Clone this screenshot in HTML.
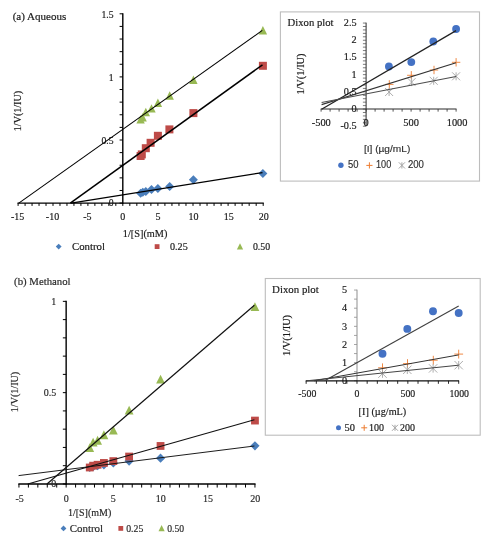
<!DOCTYPE html>
<html><head><meta charset="utf-8"><title>Lineweaver-Burk and Dixon plots</title>
<style>
html,body{margin:0;padding:0;background:#fff;}
svg{display:block;font-family:"Liberation Serif", "DejaVu Serif", serif;}
</style></head>
<body>
<svg width="496" height="550" viewBox="0 0 496 550">
<rect width="496" height="550" fill="#fff"/>
<g id="panel-a">
<text x="12.7" y="20.2" font-size="10" text-anchor="start" fill="#1a1a1a" textLength="53.6" lengthAdjust="spacingAndGlyphs" stroke="#1a1a1a" stroke-width="0.17">(a) Aqueous</text>
<line x1="122.80" y1="13.20" x2="122.80" y2="203.80" stroke="#000" stroke-width="1.4"/>
<line x1="17.50" y1="203.10" x2="263.80" y2="203.10" stroke="#000" stroke-width="1.4"/>
<line x1="119.60" y1="203.10" x2="122.80" y2="203.10" stroke="#000" stroke-width="1"/>
<line x1="119.60" y1="190.48" x2="122.80" y2="190.48" stroke="#000" stroke-width="1"/>
<line x1="119.60" y1="177.86" x2="122.80" y2="177.86" stroke="#000" stroke-width="1"/>
<line x1="119.60" y1="165.24" x2="122.80" y2="165.24" stroke="#000" stroke-width="1"/>
<line x1="119.60" y1="152.62" x2="122.80" y2="152.62" stroke="#000" stroke-width="1"/>
<line x1="119.60" y1="140.00" x2="122.80" y2="140.00" stroke="#000" stroke-width="1"/>
<line x1="119.60" y1="127.38" x2="122.80" y2="127.38" stroke="#000" stroke-width="1"/>
<line x1="119.60" y1="114.76" x2="122.80" y2="114.76" stroke="#000" stroke-width="1"/>
<line x1="119.60" y1="102.14" x2="122.80" y2="102.14" stroke="#000" stroke-width="1"/>
<line x1="119.60" y1="89.52" x2="122.80" y2="89.52" stroke="#000" stroke-width="1"/>
<line x1="119.60" y1="76.90" x2="122.80" y2="76.90" stroke="#000" stroke-width="1"/>
<line x1="119.60" y1="64.28" x2="122.80" y2="64.28" stroke="#000" stroke-width="1"/>
<line x1="119.60" y1="51.66" x2="122.80" y2="51.66" stroke="#000" stroke-width="1"/>
<line x1="119.60" y1="39.04" x2="122.80" y2="39.04" stroke="#000" stroke-width="1"/>
<line x1="119.60" y1="26.42" x2="122.80" y2="26.42" stroke="#000" stroke-width="1"/>
<line x1="119.60" y1="13.80" x2="122.80" y2="13.80" stroke="#000" stroke-width="1"/>
<line x1="18.10" y1="203.10" x2="18.10" y2="205.90" stroke="#000" stroke-width="1"/>
<line x1="25.08" y1="203.10" x2="25.08" y2="205.90" stroke="#000" stroke-width="1"/>
<line x1="32.06" y1="203.10" x2="32.06" y2="205.90" stroke="#000" stroke-width="1"/>
<line x1="39.04" y1="203.10" x2="39.04" y2="205.90" stroke="#000" stroke-width="1"/>
<line x1="46.02" y1="203.10" x2="46.02" y2="205.90" stroke="#000" stroke-width="1"/>
<line x1="53.00" y1="203.10" x2="53.00" y2="205.90" stroke="#000" stroke-width="1"/>
<line x1="59.98" y1="203.10" x2="59.98" y2="205.90" stroke="#000" stroke-width="1"/>
<line x1="66.96" y1="203.10" x2="66.96" y2="205.90" stroke="#000" stroke-width="1"/>
<line x1="73.94" y1="203.10" x2="73.94" y2="205.90" stroke="#000" stroke-width="1"/>
<line x1="80.92" y1="203.10" x2="80.92" y2="205.90" stroke="#000" stroke-width="1"/>
<line x1="87.90" y1="203.10" x2="87.90" y2="205.90" stroke="#000" stroke-width="1"/>
<line x1="94.88" y1="203.10" x2="94.88" y2="205.90" stroke="#000" stroke-width="1"/>
<line x1="101.86" y1="203.10" x2="101.86" y2="205.90" stroke="#000" stroke-width="1"/>
<line x1="108.84" y1="203.10" x2="108.84" y2="205.90" stroke="#000" stroke-width="1"/>
<line x1="115.82" y1="203.10" x2="115.82" y2="205.90" stroke="#000" stroke-width="1"/>
<line x1="122.80" y1="203.10" x2="122.80" y2="205.90" stroke="#000" stroke-width="1"/>
<line x1="129.82" y1="203.10" x2="129.82" y2="205.90" stroke="#000" stroke-width="1"/>
<line x1="136.84" y1="203.10" x2="136.84" y2="205.90" stroke="#000" stroke-width="1"/>
<line x1="143.86" y1="203.10" x2="143.86" y2="205.90" stroke="#000" stroke-width="1"/>
<line x1="150.88" y1="203.10" x2="150.88" y2="205.90" stroke="#000" stroke-width="1"/>
<line x1="157.90" y1="203.10" x2="157.90" y2="205.90" stroke="#000" stroke-width="1"/>
<line x1="164.92" y1="203.10" x2="164.92" y2="205.90" stroke="#000" stroke-width="1"/>
<line x1="171.94" y1="203.10" x2="171.94" y2="205.90" stroke="#000" stroke-width="1"/>
<line x1="178.96" y1="203.10" x2="178.96" y2="205.90" stroke="#000" stroke-width="1"/>
<line x1="185.98" y1="203.10" x2="185.98" y2="205.90" stroke="#000" stroke-width="1"/>
<line x1="193.00" y1="203.10" x2="193.00" y2="205.90" stroke="#000" stroke-width="1"/>
<line x1="200.02" y1="203.10" x2="200.02" y2="205.90" stroke="#000" stroke-width="1"/>
<line x1="207.04" y1="203.10" x2="207.04" y2="205.90" stroke="#000" stroke-width="1"/>
<line x1="214.06" y1="203.10" x2="214.06" y2="205.90" stroke="#000" stroke-width="1"/>
<line x1="221.08" y1="203.10" x2="221.08" y2="205.90" stroke="#000" stroke-width="1"/>
<line x1="228.10" y1="203.10" x2="228.10" y2="205.90" stroke="#000" stroke-width="1"/>
<line x1="235.12" y1="203.10" x2="235.12" y2="205.90" stroke="#000" stroke-width="1"/>
<line x1="242.14" y1="203.10" x2="242.14" y2="205.90" stroke="#000" stroke-width="1"/>
<line x1="249.16" y1="203.10" x2="249.16" y2="205.90" stroke="#000" stroke-width="1"/>
<line x1="256.18" y1="203.10" x2="256.18" y2="205.90" stroke="#000" stroke-width="1"/>
<line x1="263.20" y1="203.10" x2="263.20" y2="205.90" stroke="#000" stroke-width="1"/>
<text x="113.6" y="17.499999999999982" font-size="9.7" text-anchor="end" fill="#1a1a1a" stroke="#1a1a1a" stroke-width="0.17">1.5</text>
<text x="113.6" y="80.6" font-size="9.7" text-anchor="end" fill="#1a1a1a" stroke="#1a1a1a" stroke-width="0.17">1</text>
<text x="113.6" y="143.7" font-size="9.7" text-anchor="end" fill="#1a1a1a" stroke="#1a1a1a" stroke-width="0.17">0.5</text>
<text x="113.6" y="205.7" font-size="9.7" text-anchor="end" fill="#1a1a1a" stroke="#1a1a1a" stroke-width="0.17">0</text>
<text x="17.599999999999994" y="220.3" font-size="10" text-anchor="middle" fill="#1a1a1a" stroke="#1a1a1a" stroke-width="0.17">-15</text>
<text x="52.499999999999986" y="220.3" font-size="10" text-anchor="middle" fill="#1a1a1a" stroke="#1a1a1a" stroke-width="0.17">-10</text>
<text x="87.39999999999999" y="220.3" font-size="10" text-anchor="middle" fill="#1a1a1a" stroke="#1a1a1a" stroke-width="0.17">-5</text>
<text x="122.8" y="220.3" font-size="10" text-anchor="middle" fill="#1a1a1a" stroke="#1a1a1a" stroke-width="0.17">0</text>
<text x="157.89999999999998" y="220.3" font-size="10" text-anchor="middle" fill="#1a1a1a" stroke="#1a1a1a" stroke-width="0.17">5</text>
<text x="193.6" y="220.3" font-size="10" text-anchor="middle" fill="#1a1a1a" stroke="#1a1a1a" stroke-width="0.17">10</text>
<text x="228.7" y="220.3" font-size="10" text-anchor="middle" fill="#1a1a1a" stroke="#1a1a1a" stroke-width="0.17">15</text>
<text x="263.8" y="220.3" font-size="10" text-anchor="middle" fill="#1a1a1a" stroke="#1a1a1a" stroke-width="0.17">20</text>
<text x="122.8" y="236.6" font-size="9.8" text-anchor="start" fill="#1a1a1a" textLength="44.6" lengthAdjust="spacingAndGlyphs" stroke="#1a1a1a" stroke-width="0.17">1/[S](mM)</text>
<text x="20.8" y="131.2" font-size="9.6" text-anchor="start" fill="#1a1a1a" transform="rotate(-90 20.8 131.2)" textLength="40.3" lengthAdjust="spacingAndGlyphs" stroke="#1a1a1a" stroke-width="0.17">1/V(1/IU)</text>
<path d="M258.40 173.40L262.90 168.90L267.40 173.40L262.90 177.90Z" fill="#4a7ebb"/>
<path d="M188.90 179.70L193.40 175.20L197.90 179.70L193.40 184.20Z" fill="#4a7ebb"/>
<path d="M165.20 186.60L169.70 182.10L174.20 186.60L169.70 191.10Z" fill="#4a7ebb"/>
<path d="M153.40 188.50L157.90 184.00L162.40 188.50L157.90 193.00Z" fill="#4a7ebb"/>
<path d="M147.00 189.40L151.50 184.90L156.00 189.40L151.50 193.90Z" fill="#4a7ebb"/>
<path d="M141.30 191.50L145.80 187.00L150.30 191.50L145.80 196.00Z" fill="#4a7ebb"/>
<path d="M138.30 192.30L142.80 187.80L147.30 192.30L142.80 196.80Z" fill="#4a7ebb"/>
<path d="M136.10 193.30L140.60 188.80L145.10 193.30L140.60 197.80Z" fill="#4a7ebb"/>
<rect x="258.90" y="61.80" width="8" height="8" fill="#be4b48"/>
<rect x="189.40" y="109.10" width="8" height="8" fill="#be4b48"/>
<rect x="165.40" y="125.40" width="8" height="8" fill="#be4b48"/>
<rect x="153.90" y="131.80" width="8" height="8" fill="#be4b48"/>
<rect x="146.60" y="138.80" width="8" height="8" fill="#be4b48"/>
<rect x="141.80" y="144.20" width="8" height="8" fill="#be4b48"/>
<rect x="137.80" y="150.40" width="8" height="8" fill="#be4b48"/>
<rect x="136.60" y="152.00" width="8" height="8" fill="#be4b48"/>
<path d="M258.70 34.40L262.90 26.00L267.10 34.40Z" fill="#98b954"/>
<path d="M189.20 83.90L193.40 75.50L197.60 83.90Z" fill="#98b954"/>
<path d="M165.50 99.70L169.70 91.30L173.90 99.70Z" fill="#98b954"/>
<path d="M153.70 106.90L157.90 98.50L162.10 106.90Z" fill="#98b954"/>
<path d="M147.30 112.60L151.50 104.20L155.70 112.60Z" fill="#98b954"/>
<path d="M141.60 116.20L145.80 107.80L150.00 116.20Z" fill="#98b954"/>
<path d="M138.40 121.50L142.60 113.10L146.80 121.50Z" fill="#98b954"/>
<path d="M136.40 123.60L140.60 115.20L144.80 123.60Z" fill="#98b954"/>
<line x1="18.80" y1="203.10" x2="262.30" y2="30.40" stroke="#000" stroke-width="1.05"/>
<line x1="70.30" y1="203.10" x2="262.50" y2="64.80" stroke="#000" stroke-width="1.5"/>
<line x1="71.10" y1="203.10" x2="262.50" y2="172.60" stroke="#000" stroke-width="1.2"/>
<path d="M55.80 246.60L58.70 243.70L61.60 246.60L58.70 249.50Z" fill="#4a7ebb"/>
<text x="72" y="250" font-size="9.8" text-anchor="start" fill="#1a1a1a" textLength="33" lengthAdjust="spacingAndGlyphs" stroke="#1a1a1a" stroke-width="0.17">Control</text>
<rect x="154.70" y="244.20" width="4.8" height="4.8" fill="#be4b48"/>
<text x="170" y="250" font-size="9.8" text-anchor="start" fill="#1a1a1a" textLength="17.7" lengthAdjust="spacingAndGlyphs" stroke="#1a1a1a" stroke-width="0.17">0.25</text>
<path d="M236.90 249.50L240.00 243.30L243.10 249.50Z" fill="#98b954"/>
<text x="252.9" y="250" font-size="9.8" text-anchor="start" fill="#1a1a1a" textLength="17.2" lengthAdjust="spacingAndGlyphs" stroke="#1a1a1a" stroke-width="0.17">0.50</text>
</g>
<g id="dixon-a">
<rect x="280.4" y="11.9" width="199.1" height="169.2" fill="#fff" stroke="#bdbdbd" stroke-width="1.1"/>
<text x="287.6" y="26.4" font-size="10.4" text-anchor="start" fill="#1a1a1a" textLength="45.9" lengthAdjust="spacingAndGlyphs" stroke="#1a1a1a" stroke-width="0.17">Dixon plot</text>
<line x1="366.10" y1="22.65" x2="366.10" y2="126.25" stroke="#2b2b2b" stroke-width="1.0"/>
<line x1="320.70" y1="109.05" x2="456.50" y2="109.05" stroke="#2b2b2b" stroke-width="1.1"/>
<line x1="362.90" y1="126.25" x2="366.10" y2="126.25" stroke="#444" stroke-width="0.7"/>
<line x1="362.90" y1="122.81" x2="366.10" y2="122.81" stroke="#444" stroke-width="0.7"/>
<line x1="362.90" y1="119.37" x2="366.10" y2="119.37" stroke="#444" stroke-width="0.7"/>
<line x1="362.90" y1="115.93" x2="366.10" y2="115.93" stroke="#444" stroke-width="0.7"/>
<line x1="362.90" y1="112.49" x2="366.10" y2="112.49" stroke="#444" stroke-width="0.7"/>
<line x1="362.90" y1="109.05" x2="366.10" y2="109.05" stroke="#444" stroke-width="0.7"/>
<line x1="362.90" y1="105.61" x2="366.10" y2="105.61" stroke="#444" stroke-width="0.7"/>
<line x1="362.90" y1="102.17" x2="366.10" y2="102.17" stroke="#444" stroke-width="0.7"/>
<line x1="362.90" y1="98.73" x2="366.10" y2="98.73" stroke="#444" stroke-width="0.7"/>
<line x1="362.90" y1="95.29" x2="366.10" y2="95.29" stroke="#444" stroke-width="0.7"/>
<line x1="362.90" y1="91.85" x2="366.10" y2="91.85" stroke="#444" stroke-width="0.7"/>
<line x1="362.90" y1="88.41" x2="366.10" y2="88.41" stroke="#444" stroke-width="0.7"/>
<line x1="362.90" y1="84.97" x2="366.10" y2="84.97" stroke="#444" stroke-width="0.7"/>
<line x1="362.90" y1="81.53" x2="366.10" y2="81.53" stroke="#444" stroke-width="0.7"/>
<line x1="362.90" y1="78.09" x2="366.10" y2="78.09" stroke="#444" stroke-width="0.7"/>
<line x1="362.90" y1="74.65" x2="366.10" y2="74.65" stroke="#444" stroke-width="0.7"/>
<line x1="362.90" y1="71.21" x2="366.10" y2="71.21" stroke="#444" stroke-width="0.7"/>
<line x1="362.90" y1="67.77" x2="366.10" y2="67.77" stroke="#444" stroke-width="0.7"/>
<line x1="362.90" y1="64.33" x2="366.10" y2="64.33" stroke="#444" stroke-width="0.7"/>
<line x1="362.90" y1="60.89" x2="366.10" y2="60.89" stroke="#444" stroke-width="0.7"/>
<line x1="362.90" y1="57.45" x2="366.10" y2="57.45" stroke="#444" stroke-width="0.7"/>
<line x1="362.90" y1="54.01" x2="366.10" y2="54.01" stroke="#444" stroke-width="0.7"/>
<line x1="362.90" y1="50.57" x2="366.10" y2="50.57" stroke="#444" stroke-width="0.7"/>
<line x1="362.90" y1="47.13" x2="366.10" y2="47.13" stroke="#444" stroke-width="0.7"/>
<line x1="362.90" y1="43.69" x2="366.10" y2="43.69" stroke="#444" stroke-width="0.7"/>
<line x1="362.90" y1="40.25" x2="366.10" y2="40.25" stroke="#444" stroke-width="0.7"/>
<line x1="362.90" y1="36.81" x2="366.10" y2="36.81" stroke="#444" stroke-width="0.7"/>
<line x1="362.90" y1="33.37" x2="366.10" y2="33.37" stroke="#444" stroke-width="0.7"/>
<line x1="362.90" y1="29.93" x2="366.10" y2="29.93" stroke="#444" stroke-width="0.7"/>
<line x1="362.90" y1="26.49" x2="366.10" y2="26.49" stroke="#444" stroke-width="0.7"/>
<line x1="362.90" y1="23.05" x2="366.10" y2="23.05" stroke="#444" stroke-width="0.7"/>
<line x1="321.10" y1="109.05" x2="321.10" y2="111.65" stroke="#2b2b2b" stroke-width="0.8"/>
<line x1="330.10" y1="109.05" x2="330.10" y2="111.65" stroke="#2b2b2b" stroke-width="0.8"/>
<line x1="339.10" y1="109.05" x2="339.10" y2="111.65" stroke="#2b2b2b" stroke-width="0.8"/>
<line x1="348.10" y1="109.05" x2="348.10" y2="111.65" stroke="#2b2b2b" stroke-width="0.8"/>
<line x1="357.10" y1="109.05" x2="357.10" y2="111.65" stroke="#2b2b2b" stroke-width="0.8"/>
<line x1="366.10" y1="109.05" x2="366.10" y2="111.65" stroke="#2b2b2b" stroke-width="0.8"/>
<line x1="375.10" y1="109.05" x2="375.10" y2="111.65" stroke="#2b2b2b" stroke-width="0.8"/>
<line x1="384.10" y1="109.05" x2="384.10" y2="111.65" stroke="#2b2b2b" stroke-width="0.8"/>
<line x1="393.10" y1="109.05" x2="393.10" y2="111.65" stroke="#2b2b2b" stroke-width="0.8"/>
<line x1="402.10" y1="109.05" x2="402.10" y2="111.65" stroke="#2b2b2b" stroke-width="0.8"/>
<line x1="411.10" y1="109.05" x2="411.10" y2="111.65" stroke="#2b2b2b" stroke-width="0.8"/>
<line x1="420.10" y1="109.05" x2="420.10" y2="111.65" stroke="#2b2b2b" stroke-width="0.8"/>
<line x1="429.10" y1="109.05" x2="429.10" y2="111.65" stroke="#2b2b2b" stroke-width="0.8"/>
<line x1="438.10" y1="109.05" x2="438.10" y2="111.65" stroke="#2b2b2b" stroke-width="0.8"/>
<line x1="447.10" y1="109.05" x2="447.10" y2="111.65" stroke="#2b2b2b" stroke-width="0.8"/>
<line x1="456.10" y1="109.05" x2="456.10" y2="111.65" stroke="#2b2b2b" stroke-width="0.8"/>
<text x="356.6" y="26.049999999999997" font-size="10.2" text-anchor="end" fill="#1a1a1a" stroke="#1a1a1a" stroke-width="0.17">2.5</text>
<text x="356.6" y="43.25" font-size="10.2" text-anchor="end" fill="#1a1a1a" stroke="#1a1a1a" stroke-width="0.17">2</text>
<text x="356.6" y="60.45" font-size="10.2" text-anchor="end" fill="#1a1a1a" stroke="#1a1a1a" stroke-width="0.17">1.5</text>
<text x="356.6" y="77.65" font-size="10.2" text-anchor="end" fill="#1a1a1a" stroke="#1a1a1a" stroke-width="0.17">1</text>
<text x="356.6" y="94.85" font-size="10.2" text-anchor="end" fill="#1a1a1a" stroke="#1a1a1a" stroke-width="0.17">0.5</text>
<text x="356.6" y="112.05" font-size="10.2" text-anchor="end" fill="#1a1a1a" stroke="#1a1a1a" stroke-width="0.17">0</text>
<text x="356.6" y="128.55" font-size="10.2" text-anchor="end" fill="#1a1a1a" stroke="#1a1a1a" stroke-width="0.17">-0.5</text>
<text x="321.3" y="126.2" font-size="10.4" text-anchor="middle" fill="#1a1a1a" stroke="#1a1a1a" stroke-width="0.17">-500</text>
<text x="366.1" y="126.2" font-size="10.4" text-anchor="middle" fill="#1a1a1a" stroke="#1a1a1a" stroke-width="0.17">0</text>
<text x="411.1" y="126.2" font-size="10.4" text-anchor="middle" fill="#1a1a1a" stroke="#1a1a1a" stroke-width="0.17">500</text>
<text x="457.1" y="126.2" font-size="10.4" text-anchor="middle" fill="#1a1a1a" stroke="#1a1a1a" stroke-width="0.17">1000</text>
<text x="363.9" y="151.9" font-size="9.8" text-anchor="start" fill="#2e2e2e" textLength="46.4" lengthAdjust="spacingAndGlyphs" font-family='"Liberation Sans", "DejaVu Sans", sans-serif' stroke="#2e2e2e" stroke-width="0.15">[I] (µg/mL)</text>
<text x="304.3" y="94.6" font-size="10.2" text-anchor="start" fill="#1a1a1a" transform="rotate(-90 304.3 94.6)" textLength="41" lengthAdjust="spacingAndGlyphs" stroke="#1a1a1a" stroke-width="0.17">1/V(1/IU)</text>
<circle cx="456.10" cy="29.00" r="3.9" fill="#4472c4"/>
<circle cx="433.30" cy="41.50" r="3.9" fill="#4472c4"/>
<circle cx="411.30" cy="62.10" r="3.9" fill="#4472c4"/>
<circle cx="388.90" cy="66.50" r="3.9" fill="#4472c4"/>
<path d="M451.90 62.30H460.30M456.10 58.10V66.50" stroke="#ed7d31" stroke-width="0.9" fill="none"/>
<path d="M429.80 70.00H438.20M434.00 65.80V74.20" stroke="#ed7d31" stroke-width="0.9" fill="none"/>
<path d="M407.10 75.30H415.50M411.30 71.10V79.50" stroke="#ed7d31" stroke-width="0.9" fill="none"/>
<path d="M385.10 84.40H393.50M389.30 80.20V88.60" stroke="#ed7d31" stroke-width="0.9" fill="none"/>
<path d="M452.10 72.30L460.10 80.30M452.10 80.30L460.10 72.30M456.10 72.30V80.30" stroke="#a5a5a5" stroke-width="0.9" fill="none"/>
<path d="M429.70 76.80L437.70 84.80M429.70 84.80L437.70 76.80M433.70 76.80V84.80" stroke="#a5a5a5" stroke-width="0.9" fill="none"/>
<path d="M407.60 78.10L415.60 86.10M407.60 86.10L415.60 78.10M411.60 78.10V86.10" stroke="#a5a5a5" stroke-width="0.9" fill="none"/>
<path d="M385.10 88.00L393.10 96.00M385.10 96.00L393.10 88.00M389.10 88.00V96.00" stroke="#a5a5a5" stroke-width="0.9" fill="none"/>
<line x1="321.60" y1="109.30" x2="456.05" y2="30.60" stroke="#222" stroke-width="1.25"/>
<line x1="321.60" y1="104.60" x2="456.05" y2="62.70" stroke="#333" stroke-width="1.1"/>
<line x1="321.60" y1="102.50" x2="456.05" y2="76.50" stroke="#4d4d4d" stroke-width="1.1"/>
<circle cx="340.90" cy="165.20" r="2.7" fill="#4472c4"/>
<text x="348.1" y="168.3" font-size="10.3" text-anchor="start" fill="#2e2e2e" textLength="10.5" lengthAdjust="spacingAndGlyphs" font-family='"Liberation Sans", "DejaVu Sans", sans-serif' stroke="#2e2e2e" stroke-width="0.15">50</text>
<path d="M366.30 165.40H372.50M369.40 162.30V168.50" stroke="#ed7d31" stroke-width="1" fill="none"/>
<text x="376" y="168.3" font-size="10.3" text-anchor="start" fill="#2e2e2e" textLength="15.2" lengthAdjust="spacingAndGlyphs" font-family='"Liberation Sans", "DejaVu Sans", sans-serif' stroke="#2e2e2e" stroke-width="0.15">100</text>
<path d="M398.80 162.30L405.00 168.50M398.80 168.50L405.00 162.30M401.90 162.30V168.50" stroke="#a5a5a5" stroke-width="1" fill="none"/>
<text x="407.9" y="168.3" font-size="10.3" text-anchor="start" fill="#2e2e2e" textLength="16" lengthAdjust="spacingAndGlyphs" font-family='"Liberation Sans", "DejaVu Sans", sans-serif' stroke="#2e2e2e" stroke-width="0.15">200</text>
</g>
<g id="panel-b">
<text x="14.1" y="285.2" font-size="10" text-anchor="start" fill="#2a2a2a" textLength="56.5" lengthAdjust="spacingAndGlyphs" stroke="#2a2a2a" stroke-width="0.17">(b) Methanol</text>
<line x1="66.15" y1="300.75" x2="66.15" y2="484.65" stroke="#000" stroke-width="1.4"/>
<line x1="18.35" y1="483.95" x2="255.55" y2="483.95" stroke="#000" stroke-width="1.5"/>
<line x1="62.85" y1="483.95" x2="66.15" y2="483.95" stroke="#000" stroke-width="1"/>
<line x1="62.85" y1="465.69" x2="66.15" y2="465.69" stroke="#000" stroke-width="1"/>
<line x1="62.85" y1="447.43" x2="66.15" y2="447.43" stroke="#000" stroke-width="1"/>
<line x1="62.85" y1="429.17" x2="66.15" y2="429.17" stroke="#000" stroke-width="1"/>
<line x1="62.85" y1="410.91" x2="66.15" y2="410.91" stroke="#000" stroke-width="1"/>
<line x1="62.85" y1="392.65" x2="66.15" y2="392.65" stroke="#000" stroke-width="1"/>
<line x1="62.85" y1="374.39" x2="66.15" y2="374.39" stroke="#000" stroke-width="1"/>
<line x1="62.85" y1="356.13" x2="66.15" y2="356.13" stroke="#000" stroke-width="1"/>
<line x1="62.85" y1="337.87" x2="66.15" y2="337.87" stroke="#000" stroke-width="1"/>
<line x1="62.85" y1="319.61" x2="66.15" y2="319.61" stroke="#000" stroke-width="1"/>
<line x1="62.85" y1="301.35" x2="66.15" y2="301.35" stroke="#000" stroke-width="1"/>
<line x1="18.95" y1="483.95" x2="18.95" y2="487.55" stroke="#000" stroke-width="1"/>
<line x1="28.39" y1="483.95" x2="28.39" y2="487.55" stroke="#000" stroke-width="1"/>
<line x1="37.83" y1="483.95" x2="37.83" y2="487.55" stroke="#000" stroke-width="1"/>
<line x1="47.27" y1="483.95" x2="47.27" y2="487.55" stroke="#000" stroke-width="1"/>
<line x1="56.71" y1="483.95" x2="56.71" y2="487.55" stroke="#000" stroke-width="1"/>
<line x1="66.15" y1="483.95" x2="66.15" y2="487.55" stroke="#000" stroke-width="1"/>
<line x1="75.59" y1="483.95" x2="75.59" y2="487.55" stroke="#000" stroke-width="1"/>
<line x1="85.03" y1="483.95" x2="85.03" y2="487.55" stroke="#000" stroke-width="1"/>
<line x1="94.47" y1="483.95" x2="94.47" y2="487.55" stroke="#000" stroke-width="1"/>
<line x1="103.91" y1="483.95" x2="103.91" y2="487.55" stroke="#000" stroke-width="1"/>
<line x1="113.35" y1="483.95" x2="113.35" y2="487.55" stroke="#000" stroke-width="1"/>
<line x1="122.79" y1="483.95" x2="122.79" y2="487.55" stroke="#000" stroke-width="1"/>
<line x1="132.23" y1="483.95" x2="132.23" y2="487.55" stroke="#000" stroke-width="1"/>
<line x1="141.67" y1="483.95" x2="141.67" y2="487.55" stroke="#000" stroke-width="1"/>
<line x1="151.11" y1="483.95" x2="151.11" y2="487.55" stroke="#000" stroke-width="1"/>
<line x1="160.55" y1="483.95" x2="160.55" y2="487.55" stroke="#000" stroke-width="1"/>
<line x1="169.99" y1="483.95" x2="169.99" y2="487.55" stroke="#000" stroke-width="1"/>
<line x1="179.43" y1="483.95" x2="179.43" y2="487.55" stroke="#000" stroke-width="1"/>
<line x1="188.87" y1="483.95" x2="188.87" y2="487.55" stroke="#000" stroke-width="1"/>
<line x1="198.31" y1="483.95" x2="198.31" y2="487.55" stroke="#000" stroke-width="1"/>
<line x1="207.75" y1="483.95" x2="207.75" y2="487.55" stroke="#000" stroke-width="1"/>
<line x1="217.19" y1="483.95" x2="217.19" y2="487.55" stroke="#000" stroke-width="1"/>
<line x1="226.63" y1="483.95" x2="226.63" y2="487.55" stroke="#000" stroke-width="1"/>
<line x1="236.07" y1="483.95" x2="236.07" y2="487.55" stroke="#000" stroke-width="1"/>
<line x1="245.51" y1="483.95" x2="245.51" y2="487.55" stroke="#000" stroke-width="1"/>
<line x1="254.95" y1="483.95" x2="254.95" y2="487.55" stroke="#000" stroke-width="1"/>
<text x="56.3" y="304.65000000000003" font-size="10" text-anchor="end" fill="#2a2a2a" stroke="#2a2a2a" stroke-width="0.17">1</text>
<text x="56.3" y="395.95" font-size="10" text-anchor="end" fill="#2a2a2a" stroke="#2a2a2a" stroke-width="0.17">0.5</text>
<text x="56.3" y="487.25" font-size="10" text-anchor="end" fill="#2a2a2a" stroke="#2a2a2a" stroke-width="0.17">0</text>
<text x="19.55000000000001" y="501.7" font-size="10" text-anchor="middle" fill="#2a2a2a" stroke="#2a2a2a" stroke-width="0.17">-5</text>
<text x="66.15" y="501.7" font-size="10" text-anchor="middle" fill="#2a2a2a" stroke="#2a2a2a" stroke-width="0.17">0</text>
<text x="113.35" y="501.7" font-size="10" text-anchor="middle" fill="#2a2a2a" stroke="#2a2a2a" stroke-width="0.17">5</text>
<text x="160.85000000000002" y="501.7" font-size="10" text-anchor="middle" fill="#2a2a2a" stroke="#2a2a2a" stroke-width="0.17">10</text>
<text x="208.05" y="501.7" font-size="10" text-anchor="middle" fill="#2a2a2a" stroke="#2a2a2a" stroke-width="0.17">15</text>
<text x="255.25" y="501.7" font-size="10" text-anchor="middle" fill="#2a2a2a" stroke="#2a2a2a" stroke-width="0.17">20</text>
<text x="67.9" y="516.3" font-size="10" text-anchor="start" fill="#2a2a2a" textLength="43.4" lengthAdjust="spacingAndGlyphs" stroke="#2a2a2a" stroke-width="0.17">1/[S](mM)</text>
<text x="18.0" y="412.2" font-size="9.6" text-anchor="start" fill="#2a2a2a" transform="rotate(-90 18.0 412.2)" textLength="40.4" lengthAdjust="spacingAndGlyphs" stroke="#2a2a2a" stroke-width="0.17">1/V(1/IU)</text>
<path d="M85.15 467.52L89.75 462.92L94.35 467.52L89.75 472.12Z" fill="#4a7ebb"/>
<path d="M88.55 466.60L93.15 462.00L97.75 466.60L93.15 471.20Z" fill="#4a7ebb"/>
<path d="M92.99 465.69L97.59 461.09L102.19 465.69L97.59 470.29Z" fill="#4a7ebb"/>
<path d="M99.31 464.78L103.91 460.18L108.51 464.78L103.91 469.38Z" fill="#4a7ebb"/>
<path d="M108.75 462.95L113.35 458.35L117.95 462.95L113.35 467.55Z" fill="#4a7ebb"/>
<path d="M124.51 461.12L129.11 456.52L133.71 461.12L129.11 465.73Z" fill="#4a7ebb"/>
<path d="M155.95 458.20L160.55 453.60L165.15 458.20L160.55 462.80Z" fill="#4a7ebb"/>
<path d="M250.35 445.79L254.95 441.19L259.55 445.79L254.95 450.39Z" fill="#4a7ebb"/>
<rect x="85.85" y="463.60" width="7.8" height="7.8" fill="#be4b48"/>
<rect x="89.25" y="461.78" width="7.8" height="7.8" fill="#be4b48"/>
<rect x="93.69" y="460.86" width="7.8" height="7.8" fill="#be4b48"/>
<rect x="100.01" y="459.04" width="7.8" height="7.8" fill="#be4b48"/>
<rect x="109.45" y="457.21" width="7.8" height="7.8" fill="#be4b48"/>
<rect x="125.21" y="452.65" width="7.8" height="7.8" fill="#be4b48"/>
<rect x="156.65" y="442.06" width="7.8" height="7.8" fill="#be4b48"/>
<rect x="251.05" y="416.67" width="7.8" height="7.8" fill="#be4b48"/>
<path d="M85.35 451.94L89.75 443.14L94.15 451.94Z" fill="#98b954"/>
<path d="M88.75 446.46L93.15 437.67L97.55 446.46Z" fill="#98b954"/>
<path d="M93.19 444.64L97.59 435.84L101.99 444.64Z" fill="#98b954"/>
<path d="M99.51 439.16L103.91 430.36L108.31 439.16Z" fill="#98b954"/>
<path d="M108.95 434.60L113.35 425.80L117.75 434.60Z" fill="#98b954"/>
<path d="M124.71 414.51L129.11 405.71L133.51 414.51Z" fill="#98b954"/>
<path d="M156.15 383.47L160.55 374.67L164.95 383.47Z" fill="#98b954"/>
<path d="M250.55 310.98L254.95 302.18L259.35 310.98Z" fill="#98b954"/>
<line x1="47.00" y1="483.95" x2="254.40" y2="305.30" stroke="#111" stroke-width="1.2"/>
<line x1="27.80" y1="483.95" x2="254.40" y2="419.80" stroke="#111" stroke-width="1.05"/>
<line x1="18.60" y1="475.60" x2="254.40" y2="446.00" stroke="#111" stroke-width="0.95"/>
<path d="M60.60 528.40L63.50 525.50L66.40 528.40L63.50 531.30Z" fill="#4a7ebb"/>
<text x="69.7" y="532" font-size="10" text-anchor="start" fill="#2a2a2a" textLength="33.4" lengthAdjust="spacingAndGlyphs" stroke="#2a2a2a" stroke-width="0.17">Control</text>
<rect x="118.40" y="526.00" width="4.8" height="4.8" fill="#be4b48"/>
<text x="126.2" y="531.8" font-size="9.8" text-anchor="start" fill="#2a2a2a" textLength="17.1" lengthAdjust="spacingAndGlyphs" stroke="#2a2a2a" stroke-width="0.17">0.25</text>
<path d="M158.50 531.30L161.60 525.10L164.70 531.30Z" fill="#98b954"/>
<text x="167.3" y="531.8" font-size="9.8" text-anchor="start" fill="#2a2a2a" textLength="16.9" lengthAdjust="spacingAndGlyphs" stroke="#2a2a2a" stroke-width="0.17">0.50</text>
</g>
<g id="dixon-b">
<rect x="265.3" y="278.5" width="214.9" height="156.7" fill="#fff" stroke="#bdbdbd" stroke-width="1.1"/>
<text x="272.1" y="293.1" font-size="10.4" text-anchor="start" fill="#1a1a1a" textLength="46.7" lengthAdjust="spacingAndGlyphs" stroke="#1a1a1a" stroke-width="0.17">Dixon plot</text>
<line x1="357.00" y1="289.65" x2="357.00" y2="380.80" stroke="#8f8f8f" stroke-width="1"/>
<line x1="354.00" y1="380.80" x2="357.00" y2="380.80" stroke="#8f8f8f" stroke-width="0.8"/>
<line x1="354.00" y1="371.73" x2="357.00" y2="371.73" stroke="#8f8f8f" stroke-width="0.8"/>
<line x1="354.00" y1="362.65" x2="357.00" y2="362.65" stroke="#8f8f8f" stroke-width="0.8"/>
<line x1="354.00" y1="353.57" x2="357.00" y2="353.57" stroke="#8f8f8f" stroke-width="0.8"/>
<line x1="354.00" y1="344.50" x2="357.00" y2="344.50" stroke="#8f8f8f" stroke-width="0.8"/>
<line x1="354.00" y1="335.43" x2="357.00" y2="335.43" stroke="#8f8f8f" stroke-width="0.8"/>
<line x1="354.00" y1="326.35" x2="357.00" y2="326.35" stroke="#8f8f8f" stroke-width="0.8"/>
<line x1="354.00" y1="317.28" x2="357.00" y2="317.28" stroke="#8f8f8f" stroke-width="0.8"/>
<line x1="354.00" y1="308.20" x2="357.00" y2="308.20" stroke="#8f8f8f" stroke-width="0.8"/>
<line x1="354.00" y1="299.12" x2="357.00" y2="299.12" stroke="#8f8f8f" stroke-width="0.8"/>
<line x1="354.00" y1="290.05" x2="357.00" y2="290.05" stroke="#8f8f8f" stroke-width="0.8"/>
<line x1="305.75" y1="380.80" x2="459.10" y2="380.80" stroke="#111" stroke-width="1.2"/>
<line x1="306.15" y1="380.80" x2="306.15" y2="383.80" stroke="#111" stroke-width="0.9"/>
<line x1="316.32" y1="380.80" x2="316.32" y2="383.80" stroke="#111" stroke-width="0.9"/>
<line x1="326.49" y1="380.80" x2="326.49" y2="383.80" stroke="#111" stroke-width="0.9"/>
<line x1="336.66" y1="380.80" x2="336.66" y2="383.80" stroke="#111" stroke-width="0.9"/>
<line x1="346.83" y1="380.80" x2="346.83" y2="383.80" stroke="#111" stroke-width="0.9"/>
<line x1="357.00" y1="380.80" x2="357.00" y2="383.80" stroke="#111" stroke-width="0.9"/>
<line x1="367.17" y1="380.80" x2="367.17" y2="383.80" stroke="#111" stroke-width="0.9"/>
<line x1="377.34" y1="380.80" x2="377.34" y2="383.80" stroke="#111" stroke-width="0.9"/>
<line x1="387.51" y1="380.80" x2="387.51" y2="383.80" stroke="#111" stroke-width="0.9"/>
<line x1="397.68" y1="380.80" x2="397.68" y2="383.80" stroke="#111" stroke-width="0.9"/>
<line x1="407.85" y1="380.80" x2="407.85" y2="383.80" stroke="#111" stroke-width="0.9"/>
<line x1="418.02" y1="380.80" x2="418.02" y2="383.80" stroke="#111" stroke-width="0.9"/>
<line x1="428.19" y1="380.80" x2="428.19" y2="383.80" stroke="#111" stroke-width="0.9"/>
<line x1="438.36" y1="380.80" x2="438.36" y2="383.80" stroke="#111" stroke-width="0.9"/>
<line x1="448.53" y1="380.80" x2="448.53" y2="383.80" stroke="#111" stroke-width="0.9"/>
<line x1="458.70" y1="380.80" x2="458.70" y2="383.80" stroke="#111" stroke-width="0.9"/>
<text x="347.2" y="384.0" font-size="10.2" text-anchor="end" fill="#1a1a1a" stroke="#1a1a1a" stroke-width="0.17">0</text>
<text x="347.2" y="365.85" font-size="10.2" text-anchor="end" fill="#1a1a1a" stroke="#1a1a1a" stroke-width="0.17">1</text>
<text x="347.2" y="347.7" font-size="10.2" text-anchor="end" fill="#1a1a1a" stroke="#1a1a1a" stroke-width="0.17">2</text>
<text x="347.2" y="329.55" font-size="10.2" text-anchor="end" fill="#1a1a1a" stroke="#1a1a1a" stroke-width="0.17">3</text>
<text x="347.2" y="311.40000000000003" font-size="10.2" text-anchor="end" fill="#1a1a1a" stroke="#1a1a1a" stroke-width="0.17">4</text>
<text x="347.2" y="293.25" font-size="10.2" text-anchor="end" fill="#1a1a1a" stroke="#1a1a1a" stroke-width="0.17">5</text>
<text x="307.34999999999997" y="397.4" font-size="9.8" text-anchor="middle" fill="#1a1a1a" stroke="#1a1a1a" stroke-width="0.17">-500</text>
<text x="357.0" y="397.4" font-size="9.8" text-anchor="middle" fill="#1a1a1a" stroke="#1a1a1a" stroke-width="0.17">0</text>
<text x="407.85" y="397.4" font-size="9.8" text-anchor="middle" fill="#1a1a1a" stroke="#1a1a1a" stroke-width="0.17">500</text>
<text x="459.2" y="397.4" font-size="9.8" text-anchor="middle" fill="#1a1a1a" stroke="#1a1a1a" stroke-width="0.17">1000</text>
<text x="358.6" y="414.6" font-size="9.8" text-anchor="start" fill="#1a1a1a" textLength="47.7" lengthAdjust="spacingAndGlyphs" stroke="#1a1a1a" stroke-width="0.17">[I] (µg/mL)</text>
<text x="289.9" y="356" font-size="10.2" text-anchor="start" fill="#1a1a1a" transform="rotate(-90 289.9 356)" textLength="41" lengthAdjust="spacingAndGlyphs" stroke="#1a1a1a" stroke-width="0.17">1/V(1/IU)</text>
<circle cx="458.70" cy="313.00" r="3.95" fill="#4472c4"/>
<circle cx="433.00" cy="311.20" r="3.95" fill="#4472c4"/>
<circle cx="407.30" cy="328.90" r="3.95" fill="#4472c4"/>
<circle cx="382.50" cy="353.80" r="3.95" fill="#4472c4"/>
<path d="M454.30 354.10H463.10M458.70 349.70V358.50" stroke="#ed7d31" stroke-width="0.9" fill="none"/>
<path d="M428.90 360.20H437.70M433.30 355.80V364.60" stroke="#ed7d31" stroke-width="0.9" fill="none"/>
<path d="M403.10 363.60H411.90M407.50 359.20V368.00" stroke="#ed7d31" stroke-width="0.9" fill="none"/>
<path d="M378.10 367.80H386.90M382.50 363.40V372.20" stroke="#ed7d31" stroke-width="0.9" fill="none"/>
<path d="M454.50 361.00L462.90 369.40M454.50 369.40L462.90 361.00M458.70 361.00V369.40" stroke="#a5a5a5" stroke-width="0.9" fill="none"/>
<path d="M428.90 364.20L437.30 372.60M428.90 372.60L437.30 364.20M433.10 364.20V372.60" stroke="#a5a5a5" stroke-width="0.9" fill="none"/>
<path d="M403.10 365.60L411.50 374.00M403.10 374.00L411.50 365.60M407.30 365.60V374.00" stroke="#a5a5a5" stroke-width="0.9" fill="none"/>
<path d="M378.30 369.40L386.70 377.80M378.30 377.80L386.70 369.40M382.50 369.40V377.80" stroke="#a5a5a5" stroke-width="0.9" fill="none"/>
<line x1="324.60" y1="380.80" x2="458.70" y2="306.00" stroke="#404040" stroke-width="1.1"/>
<line x1="314.00" y1="380.80" x2="458.70" y2="354.90" stroke="#333" stroke-width="1.0"/>
<line x1="306.70" y1="380.80" x2="458.70" y2="365.20" stroke="#444" stroke-width="1.0"/>
<circle cx="338.50" cy="427.80" r="2.5" fill="#4472c4"/>
<text x="344.5" y="430.8" font-size="9.8" text-anchor="start" fill="#1a1a1a" textLength="10.4" lengthAdjust="spacingAndGlyphs" stroke="#1a1a1a" stroke-width="0.17">50</text>
<path d="M361.20 427.80H367.20M364.20 424.80V430.80" stroke="#ed7d31" stroke-width="1" fill="none"/>
<text x="369" y="430.8" font-size="9.8" text-anchor="start" fill="#1a1a1a" textLength="15" lengthAdjust="spacingAndGlyphs" stroke="#1a1a1a" stroke-width="0.17">100</text>
<path d="M392.00 424.80L398.00 430.80M392.00 430.80L398.00 424.80M395.00 424.80V430.80" stroke="#a5a5a5" stroke-width="1" fill="none"/>
<text x="400" y="430.8" font-size="9.8" text-anchor="start" fill="#1a1a1a" textLength="15" lengthAdjust="spacingAndGlyphs" stroke="#1a1a1a" stroke-width="0.17">200</text>
</g>
</svg>
</body></html>
